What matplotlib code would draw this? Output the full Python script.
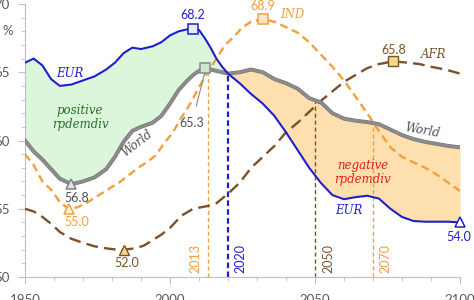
import numpy as np
from matplotlib import pyplot as plt, ticker as plticker
from matplotlib import patheffects as pe

# EUR and World share one grid of years (needed for the shaded areas)
years = [1950, 1953, 1956, 1959, 1962, 1966, 1970, 1974, 1978, 1981, 1984, 1987,
         1990, 1994, 1997, 2000, 2003, 2006, 2008, 2010, 2012, 2014, 2016, 2018,
         2020, 2024, 2028, 2032, 2036, 2040, 2044, 2048, 2052, 2056, 2060, 2064,
         2068, 2072, 2076, 2080, 2084, 2088, 2092, 2096, 2100]
eur = [65.7, 66.0, 65.5, 64.5, 64.0, 64.1, 64.4, 64.7, 65.2, 65.7, 66.4, 66.8,
       66.7, 66.9, 67.2, 67.7, 68.0, 68.15, 68.2, 68.1, 67.5, 66.8, 66.0, 65.4,
       64.9, 64.2, 63.4, 62.7, 61.8, 60.6, 59.3, 58.0, 56.9, 56.0, 55.7, 55.85,
       55.95, 55.75, 55.0, 54.4, 54.1, 54.05, 54.05, 54.05, 54.0]
world = [60.0, 59.2, 58.6, 57.9, 57.2, 56.8, 57.0, 57.3, 57.9, 58.8, 59.9, 60.7,
         61.0, 61.3, 61.8, 62.7, 63.7, 64.4, 64.8, 65.1, 65.3, 65.2, 65.1, 65.0,
         64.9, 65.0, 65.2, 65.0, 64.5, 64.2, 63.8, 63.1, 62.8, 62.0, 61.6, 61.45,
         61.35, 61.2, 60.8, 60.4, 60.1, 59.9, 59.75, 59.6, 59.5]

ind_years = [1950, 1953, 1956, 1959, 1962, 1965, 1968, 1971, 1974, 1977, 1980, 1983,
             1986, 1989, 1992, 1995, 1998, 2001, 2004, 2007, 2010, 2013, 2016, 2019,
             2022, 2025, 2028, 2032, 2036, 2040, 2044, 2048, 2052, 2056, 2060, 2064,
             2068, 2072, 2076, 2080, 2084, 2088, 2092, 2096, 2100]
ind = [59.0, 58.2, 57.0, 56.4, 55.5, 55.0, 55.1, 55.4, 55.8, 56.2, 56.6, 57.0,
       57.5, 58.0, 58.4, 58.9, 59.8, 60.6, 61.7, 62.7, 63.9, 65.0, 66.0, 67.0,
       67.6, 68.3, 68.7, 68.9, 68.7, 68.3, 67.9, 67.2, 66.3, 65.4, 64.4, 63.2,
       62.0, 60.7, 59.5, 58.8, 58.4, 58.0, 57.5, 56.9, 56.3]

afr_years = [1950, 1953, 1956, 1959, 1962, 1966, 1970, 1974, 1978, 1981, 1984, 1988,
             1991, 1994, 1997, 2000, 2004, 2008, 2013, 2016, 2020, 2024, 2028, 2032,
             2036, 2040, 2044, 2048, 2052, 2056, 2060, 2064, 2068, 2072, 2077, 2082,
             2086, 2090, 2095, 2100]
afr = [55.0, 54.8, 54.4, 53.9, 53.3, 52.8, 52.5, 52.25, 52.1, 52.02, 52.0, 52.1,
       52.3, 52.7, 53.1, 53.6, 54.5, 55.0, 55.2, 55.4, 56.1, 56.9, 58.0, 58.8,
       59.6, 60.6, 61.3, 62.1, 62.9, 63.6, 64.3, 64.8, 65.3, 65.6, 65.8, 65.7,
       65.6, 65.4, 65.2, 64.9]

marked_years = [2013, 2020, 2050, 2070]

C_EUR = "#1f1fcc"
C_IND = "#f2a03c"
C_AFR = "#7a5228"
C_WLD = "#8c8c8c"
NUM_FONT = "Lato"
LBL_FONT = "DejaVu Serif"


def num_label(ax, x, y, color, dx=0.0, dy=0.0):
    ax.text(x + dx, y + dy, f"{y:.1f}", color=color, fontsize=9, family=NUM_FONT,
            ha="center", va="center", zorder=8)


def draw_plot():
    fig = plt.figure(figsize=(4.74, 3.0), dpi=100)
    ax = fig.add_axes([25 / 474, 23 / 300, 435 / 474, 273 / 300])
    ax.set_xlim(1950, 2100)
    ax.set_ylim(50, 70)
    for s in ["top", "right"]:
        ax.spines[s].set_visible(False)
    for s in ["left", "bottom"]:
        ax.spines[s].set_color("#bfbfbf")
    ax.xaxis.set_major_locator(plticker.MultipleLocator(50))
    ax.xaxis.set_minor_locator(plticker.MultipleLocator(10))
    ax.yaxis.set_major_locator(plticker.MultipleLocator(5))
    ax.yaxis.set_minor_locator(plticker.MultipleLocator(1))
    ax.tick_params(which="both", color="#bfbfbf", labelcolor="#595959", labelsize=9.5)
    ax.tick_params(which="major", length=5)
    ax.tick_params(which="minor", length=3)
    ax.tick_params(axis="x", pad=7)
    ax.tick_params(axis="y", pad=6)
    for t in ax.get_xticklabels() + ax.get_yticklabels():
        t.set_family(NUM_FONT)
    ax.text(-0.028, 68, "%", transform=ax.get_yaxis_transform(), ha="right", va="center",
            fontsize=9.5, color="#595959", family=NUM_FONT)

    x = np.array(years)
    e = np.array(eur)
    w = np.array(world)
    ax.fill_between(x, e, w, where=e >= w, interpolate=True, color="#dbf6db", lw=0, zorder=1)
    ax.fill_between(x, e, w, where=e <= w, interpolate=True, color="#fde0ad", lw=0, zorder=1)

    # vertical markers, from the World curve down to the axis
    v_styles = [(C_IND, 1.0, (0, (3, 2)), -4.4), (C_EUR, 1.6, (0, (2.5, 1.5)), 4.2),
                (C_AFR, 1.0, (0, (3, 2)), 4.5), (C_IND, 1.0, (0, (3, 2)), 4.2)]
    for yr, (col, lw, ls, off) in zip(marked_years, v_styles):
        top = np.interp(yr, x, w)
        ax.plot([yr, yr], [50, top], color=col, lw=lw, ls=ls, zorder=2)
        ax.text(yr + off, 50.3, str(yr), rotation=90, color=col, fontsize=9,
                family=NUM_FONT, ha="center", va="bottom", zorder=8)

    ax.plot(afr_years, afr, color=C_AFR, lw=1.7, ls=(0, (5, 2.6)), zorder=3)
    ax.plot(ind_years, ind, color=C_IND, lw=1.7, ls=(0, (3.4, 2.0)), zorder=3)
    ax.plot(x, w, color=C_WLD, lw=2.0, zorder=4,
            path_effects=[pe.Stroke(linewidth=2.8, foreground="#747474"), pe.Normal()])
    ax.plot(x, e, color=C_EUR, lw=1.5, zorder=5)

    # extremes
    i = int(np.argmax(e))
    ax.plot(x[i], e[i], "s", ms=7, mfc="#e8ecff", mec=C_EUR, mew=1.1, zorder=7)
    num_label(ax, x[i], e[i], C_EUR, dy=1.0)
    i = int(np.argmin(e))
    ax.plot(x[i], e[i], "^", ms=7, mfc="white", mec=C_EUR, mew=1.1, zorder=7, clip_on=False)
    num_label(ax, x[i], e[i], C_EUR, dx=-0.5, dy=-1.1)

    i = int(np.argmin(w))
    ax.plot(x[i], w[i], "^", ms=7, mfc="#dfe6df", mec="#808080", mew=1.1, zorder=7)
    num_label(ax, x[i], w[i], "#505050", dx=2.0, dy=-1.0)
    i = int(np.argmax(w))
    ax.plot(x[i], w[i], "s", ms=7, mfc="#cfe6cf", mec="#8a8a8a", mew=1.1, zorder=7)
    ax.annotate(f"{w[i]:.1f}", xy=(x[i], w[i] - 0.3), xytext=(x[i] - 4.4, 61.3),
                color="#505050", fontsize=9, family=NUM_FONT, ha="center", va="center",
                arrowprops=dict(arrowstyle="-", color="#8a8a8a", lw=0.8, shrinkA=6, shrinkB=0),
                zorder=8)

    ni = np.array(ind)
    i = int(np.argmin(ni))
    ax.plot(ind_years[i], ni[i], "^", ms=7, mfc="#fff3dc", mec=C_IND, mew=1.1, zorder=7)
    num_label(ax, ind_years[i], ni[i], C_IND, dx=3.0, dy=-1.0)
    i = int(np.argmax(ni))
    ax.plot(ind_years[i], ni[i], "s", ms=7, mfc="#fde6c8", mec=C_IND, mew=1.1, zorder=7)
    num_label(ax, ind_years[i], ni[i], C_IND, dy=0.95)

    na = np.array(afr)
    i = int(np.argmin(na))
    ax.plot(afr_years[i], na[i], "^", ms=7, mfc="#f3d98a", mec=C_AFR, mew=1.0, zorder=7)
    num_label(ax, afr_years[i], na[i], C_AFR, dx=1.0, dy=-0.95)
    i = int(np.argmax(na))
    ax.plot(afr_years[i], na[i], "s", ms=7, mfc="#f3d98a", mec=C_AFR, mew=1.0, zorder=7)
    num_label(ax, afr_years[i], na[i], C_AFR, dy=0.8)

    # series names
    kw = dict(family=LBL_FONT, style="italic", fontsize=8.5, ha="center", va="center", zorder=8)
    ax.text(1965.5, 64.9, "EUR", color=C_EUR, **kw)
    ax.text(2061.7, 54.85, "EUR", color=C_EUR, **kw)
    ax.text(2042, 69.2, "IND", color=C_IND, **kw)
    ax.text(2091, 66.3, "AFR", color=C_AFR, **kw)
    ax.text(1988.6, 59.8, "World", color="#505050", rotation=38, **kw)
    ax.text(2087, 60.7, "World", color="#505050", rotation=-10, **kw)
    ax.text(1969, 61.65, "positive\nrpdemdiv", color="#2a6e2a", linespacing=1.1, **kw)
    ax.text(2066.5, 57.65, "negative\nrpdemdiv", color="#e0201a", linespacing=1.1, **kw)
    return fig


def save_plot():
    fig = draw_plot()
    fig.savefig("out.png", dpi=100)
    return


if __name__ == "__main__":
    save_plot()
